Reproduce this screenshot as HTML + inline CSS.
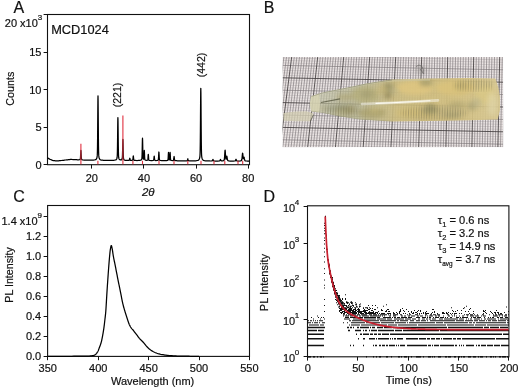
<!DOCTYPE html>
<html><head><meta charset="utf-8"><style>
html,body{margin:0;padding:0;background:#fff;width:520px;height:390px;overflow:hidden}
svg{display:block}
text{font-family:"Liberation Sans", Arial, Helvetica, sans-serif;fill:#111;stroke:#111;stroke-width:0.2px}
</style></head><body>
<svg width="520" height="390" viewBox="0 0 520 390">
<rect x="47.5" y="14.5" width="202.0" height="150.2" fill="none" stroke="#111" stroke-width="1.1"/>
<line x1="43.6" y1="164.5" x2="47.5" y2="164.5" stroke="#111"/>
<line x1="43.6" y1="127.5" x2="47.5" y2="127.5" stroke="#111"/>
<line x1="43.6" y1="89.5" x2="47.5" y2="89.5" stroke="#111"/>
<line x1="43.6" y1="52.5" x2="47.5" y2="52.5" stroke="#111"/>
<line x1="43.6" y1="14.5" x2="47.5" y2="14.5" stroke="#111"/>
<text x="41.5" y="168.8" text-anchor="end" font-size="11">0</text>
<text x="41.5" y="131.2" text-anchor="end" font-size="11">5</text>
<text x="41.5" y="93.6" text-anchor="end" font-size="11">10</text>
<text x="41.5" y="56" text-anchor="end" font-size="11">15</text>
<text x="4.8" y="26.6" font-size="11">20 x10<tspan dy="-7" font-size="8">3</tspan></text>
<line x1="91.5" y1="164.7" x2="91.5" y2="168.6" stroke="#111"/>
<text x="91.81" y="181.6" text-anchor="middle" font-size="11">20</text>
<line x1="143.5" y1="164.7" x2="143.5" y2="168.6" stroke="#111"/>
<text x="143.95" y="181.6" text-anchor="middle" font-size="11">40</text>
<line x1="196.5" y1="164.7" x2="196.5" y2="168.6" stroke="#111"/>
<text x="196.09" y="181.6" text-anchor="middle" font-size="11">60</text>
<line x1="248.5" y1="164.7" x2="248.5" y2="168.6" stroke="#111"/>
<text x="248.23" y="181.6" text-anchor="middle" font-size="11">80</text>
<text x="148.2" y="196.4" text-anchor="middle" font-size="11.5" font-style="italic">2θ</text>
<text transform="translate(13.6,88.7) rotate(-90)" text-anchor="middle" font-size="10.7">Counts</text>
<text x="51.2" y="33.8" font-size="12.8">MCD1024</text>
<text transform="translate(120.6,95) rotate(-90)" text-anchor="middle" font-size="10.5">(221)</text>
<text transform="translate(205,65) rotate(-90)" text-anchor="middle" font-size="10.5">(442)</text>
<text x="13.6" y="12.7" font-size="16">A</text>
<path d="M47.5,157.8 47.6,157.9 47.7,157.9 47.8,158 47.9,158 48,158.1 48.1,158.2 48.2,158.2 48.3,158.3 48.4,158.3 48.5,158.4 48.6,158.5 48.7,158.5 48.8,158.6 48.9,158.6 49,158.7 49.1,158.8 49.2,158.8 49.3,158.9 49.4,158.9 49.5,159 49.6,159.1 49.7,159.1 49.8,159.2 49.9,159.2 50,159.3 50.5,159.5 51.5,159.9 52.5,160.3 53.5,160.6 54.5,160.7 55.5,160.8 56.5,160.9 57.5,160.9 58.5,160.8 59.5,160.7 60.5,160.6 61.5,160.5 62.5,160.4 63.5,160.3 64.5,160.1 65.5,160 66.5,159.9 67.5,159.8 68.5,159.7 69.5,159.6 70.5,159.4 71.5,159.4 72.5,159.5 73.5,159.5 74.5,159.6 75.5,159.7 76.5,159.7 77.5,159.8 78.5,159.8 79.5,159.7 79.9,159.6 80,159.5 80.1,159.4 80.2,159.3 80.3,159 80.4,158.4 80.5,157.2 80.6,155.4 80.7,153.2 80.8,151.2 80.9,150.4 81,151.2 81.1,153.2 81.2,155.4 81.3,157.3 81.4,158.4 81.5,159 81.6,159.3 81.7,159.5 81.8,159.6 81.9,159.6 82,159.7 82.5,159.9 83.5,160 84.5,160 85.5,160.1 86.5,160.1 87.5,160.1 88.5,160.1 89.5,160.1 90.5,160.1 91.5,160.1 92.5,160.1 93.5,160.1 94.5,160 95.5,159.7 95.6,159.7 95.7,159.6 95.8,159.5 95.9,159.5 96,159.4 96.1,159.3 96.2,159.2 96.3,159.1 96.4,159 96.5,158.8 96.6,158.6 96.7,158.4 96.8,158.1 96.9,157.7 97,157.3 97.1,156.8 97.2,155.9 97.3,154.5 97.4,151.7 97.5,146.6 97.6,137.9 97.7,125.6 97.8,111.7 97.9,100.2 98,95.8 98.1,100.3 98.2,111.7 98.3,125.6 98.4,137.9 98.5,146.6 98.6,151.7 98.7,154.5 98.8,155.9 98.9,156.8 99,157.4 99.1,157.8 99.2,158.1 99.3,158.4 99.4,158.6 99.5,158.8 99.6,159 99.7,159.2 99.8,159.3 99.9,159.4 100,159.5 100.1,159.6 100.2,159.6 100.3,159.7 100.4,159.7 100.5,159.8 101.5,160.1 102.5,160.2 103.5,160.3 104.5,160.3 105.5,160.3 106.5,160.3 107.5,160.4 108.5,160.4 109.5,160.4 110.5,160.4 111.5,160.3 112.5,160.3 113.5,160.3 114.5,160.2 115.5,160 115.8,159.9 115.9,159.8 116,159.8 116.1,159.7 116.2,159.6 116.3,159.5 116.4,159.4 116.5,159.3 116.6,159.1 116.7,158.9 116.8,158.7 116.9,158.4 117,158 117.1,157.5 117.2,156.5 117.3,154.7 117.4,151.3 117.5,145.6 117.6,137.4 117.7,128.2 117.8,120.6 117.9,117.6 118,120.6 118.1,128.2 118.2,137.4 118.3,145.5 118.4,151.3 118.5,154.7 118.6,156.5 118.7,157.5 118.8,158 118.9,158.4 119,158.7 119.1,158.9 119.2,159.1 119.3,159.2 119.4,159.4 119.5,159.5 119.6,159.6 119.7,159.6 119.8,159.7 119.9,159.7 120.5,159.9 121.5,159.8 121.6,159.7 121.7,159.7 121.8,159.6 121.9,159.5 122,159.3 122.1,159.1 122.2,158.8 122.3,158.1 122.4,156.8 122.5,154.3 122.6,150.4 122.7,145.4 122.8,141.1 122.9,139.4 123,141.1 123.1,145.4 123.2,150.4 123.3,154.4 123.4,156.9 123.5,158.2 123.6,158.8 123.7,159.2 123.8,159.4 123.9,159.6 124,159.7 124.1,159.8 124.2,159.9 124.3,159.9 124.4,160 124.5,160 125.5,160.3 126.5,160.4 127.5,160.4 128.5,160.4 129.1,160.3 129.2,160.2 129.3,160.1 129.4,159.8 129.5,159.4 129.6,158.9 129.7,158.4 129.8,158.2 129.9,158.4 130,158.9 130.1,159.4 130.2,159.8 130.3,160.1 130.4,160.2 130.5,160.3 131.5,160.4 132.5,160.2 132.6,160.1 132.7,160 132.8,159.7 132.9,159.2 133,158.3 133.1,157.3 133.2,156.3 133.3,155.9 133.4,156.3 133.5,157.3 133.6,158.3 133.7,159.2 133.8,159.7 133.9,160 134,160.1 134.1,160.2 134.5,160.4 135.5,160.4 136.5,160.5 137.5,160.5 138.5,160.4 139.5,160.4 140.5,160.2 140.9,160.1 141,160.1 141.1,160 141.2,159.9 141.3,159.8 141.4,159.7 141.5,159.6 141.6,159.4 141.7,159.2 141.8,158.8 141.9,158.1 142,156.7 142.1,154.1 142.2,149.9 142.3,144.6 142.4,140 142.5,138.2 142.6,140 142.7,144.6 142.8,149.8 142.9,154 143,156.6 143.1,158 143.2,158.6 143.3,158.9 143.4,159.1 143.5,159.2 143.6,159.2 143.7,159.1 143.8,158.7 143.9,157.8 144,156.1 144.1,153.7 144.2,151.4 144.3,150.4 144.4,151.5 144.5,153.8 144.6,156.3 144.7,158.1 144.8,159.1 144.9,159.6 145,159.8 145.1,159.9 145.2,160 145.3,160.1 145.4,160.1 145.5,160.2 146.5,160.3 147.5,160.2 147.6,160.1 147.7,160 147.8,159.7 147.9,159.1 148,158 148.1,156.4 148.2,154.9 148.3,154.3 148.4,155 148.5,156.4 148.6,158 148.7,159.1 148.8,159.7 148.9,160 149,160.2 149.1,160.2 149.2,160.3 149.5,160.4 150.5,160.5 151.5,160.5 152.5,160.5 153.4,160.3 153.5,160.3 153.6,160.1 153.7,159.9 153.8,159.3 153.9,158.5 154,157.5 154.1,156.6 154.2,156.2 154.3,156.6 154.4,157.5 154.5,158.5 154.6,159.3 154.7,159.9 154.8,160.1 154.9,160.3 155,160.3 155.5,160.5 156.5,160.5 157.5,160.4 157.9,160.3 158,160.2 158.1,160.1 158.2,160 158.3,159.7 158.4,159.2 158.5,158.1 158.6,156.5 158.7,154.5 158.8,152.7 158.9,152 159,152.7 159.1,154.5 159.2,156.5 159.3,158.2 159.4,159.2 159.5,159.7 159.6,160 159.7,160.1 159.8,160.2 159.9,160.3 160,160.4 160.5,160.5 161.5,160.6 162.5,160.6 163.5,160.6 164.5,160.7 165.5,160.6 166.5,160.6 167.5,160.4 167.6,160.3 167.7,160.3 167.8,160.2 167.9,160 168,159.6 168.1,158.8 168.2,157.3 168.3,155.2 168.4,153.2 168.5,152.4 168.6,153.2 168.7,155.1 168.8,157.2 168.9,158.7 169,159.4 169.1,159.8 169.2,159.9 169.4,159.9 169.5,159.8 169.6,159.4 169.7,158.7 169.8,157.2 169.9,155.1 170,153.2 170.1,152.3 170.2,153.2 170.3,155.2 170.4,157.3 170.5,158.8 170.6,159.6 170.7,160 170.8,160.2 170.9,160.3 171,160.3 171.1,160.4 171.5,160.5 172.5,160.6 173.3,160.5 173.4,160.4 173.5,160.3 173.6,160 173.7,159.5 173.8,158.7 173.9,157.7 174,156.8 174.1,156.5 174.2,156.8 174.3,157.7 174.4,158.7 174.5,159.5 174.6,160 174.7,160.3 174.8,160.4 174.9,160.5 175.5,160.7 176.5,160.7 177.5,160.8 178.5,160.8 179.5,160.8 180.5,160.8 181.5,160.8 182.5,160.8 183.5,160.8 184.5,160.8 185.5,160.8 186.5,160.8 187.1,160.7 187.2,160.6 187.3,160.5 187.4,160.3 187.5,159.9 187.6,159.4 187.7,158.9 187.8,158.8 187.9,158.9 188,159.4 188.1,159.9 188.2,160.3 188.3,160.5 188.4,160.6 188.5,160.7 189.5,160.8 190.5,160.9 191.5,160.9 192.5,160.9 193.5,160.8 194.5,160.8 195.5,160.8 196.5,160.7 197.5,160.5 198.1,160.3 198.2,160.2 198.3,160.2 198.4,160.1 198.5,160.1 198.6,160 198.7,159.9 198.8,159.8 198.9,159.7 199,159.5 199.1,159.4 199.2,159.2 199.3,159 199.4,158.7 199.5,158.4 199.6,158.1 199.7,157.6 199.8,157.1 199.9,156.3 200,155 200.1,152.8 200.2,148.8 200.3,141.9 200.4,131.5 200.5,118 200.6,103.7 200.7,92.5 200.8,88.3 200.9,92.5 201,103.7 201.1,118 201.2,131.5 201.3,141.9 201.4,148.8 201.5,152.8 201.6,155 201.7,156.3 201.8,157.1 201.9,157.6 202,158.1 202.1,158.4 202.2,158.7 202.3,159 202.4,159.2 202.5,159.4 202.6,159.5 202.7,159.7 202.8,159.8 202.9,159.9 203,160 203.1,160.1 203.2,160.1 203.3,160.2 203.4,160.3 203.5,160.3 204.5,160.6 205.5,160.8 206.5,160.9 207.5,160.9 208.5,160.9 209.5,160.9 210.5,161 211.5,160.9 212.2,160.8 212.3,160.7 212.4,160.6 212.5,160.4 212.6,160.2 212.7,159.9 212.8,159.7 212.9,159.5 213,159.4 213.1,159.5 213.2,159.7 213.3,160 213.4,160.2 213.5,160.4 213.6,160.6 213.7,160.7 213.8,160.8 214.5,161 215.5,161 216.5,161 217.5,161 218.5,161 219.5,160.9 219.7,160.8 219.8,160.8 219.9,160.6 220,160.5 220.1,160.2 220.2,160 220.3,159.8 220.4,159.6 220.5,159.5 220.6,159.6 220.7,159.7 220.8,160 220.9,160.2 221,160.4 221.1,160.6 221.2,160.7 221.3,160.8 221.5,160.9 222.5,160.8 223.5,160.6 223.6,160.6 223.7,160.5 223.8,160.5 223.9,160.4 224,160.3 224.1,160.1 224.2,159.9 224.3,159.5 224.4,158.8 224.5,157.9 224.6,156.6 224.7,155 224.8,153.3 224.9,151.8 225,150.6 225.1,150.2 225.2,150.6 225.3,151.7 225.4,153.2 225.5,154.9 225.6,156.4 225.7,157.7 225.8,158.5 225.9,159 226,159.2 226.1,159.1 226.2,158.9 226.3,158.4 226.4,157.8 226.5,157.2 226.6,156.6 226.7,156.2 226.8,156.1 226.9,156.3 227,156.8 227.1,157.4 227.2,158.1 227.3,158.8 227.4,159.4 227.5,159.8 227.6,160.1 227.7,160.4 227.8,160.5 227.9,160.6 228,160.7 228.5,160.8 229.5,161 230.5,161 231.5,161 232.5,161.1 233.5,161.1 234.5,161 235.1,160.9 235.2,160.9 235.3,160.8 235.4,160.7 235.5,160.5 235.6,160.2 235.7,159.9 235.8,159.6 235.9,159.4 236,159.3 236.1,159.4 236.2,159.6 236.3,159.9 236.4,160.2 236.5,160.5 236.6,160.7 236.7,160.8 236.8,160.9 236.9,160.9 237.5,161 238.5,161 239.5,161 240.5,160.9 241.2,160.7 241.3,160.7 241.4,160.6 241.5,160.5 241.6,160.3 241.7,160.1 241.8,159.8 241.9,159.2 242,158.5 242.1,157.6 242.2,156.4 242.3,155.3 242.4,154.2 242.5,153.5 242.6,153.2 242.7,153.4 242.8,154.1 242.9,155.1 243,156.2 243.1,157.2 243.2,158 243.3,158.5 243.4,158.7 243.5,158.6 243.6,158.3 243.7,157.8 243.8,157.4 243.9,157.2 244,157.1 244.1,157.3 244.2,157.6 244.3,158.2 244.4,158.7 244.5,159.3 244.6,159.8 244.7,160.1 244.8,160.4 244.9,160.5 245,160.7 245.1,160.7 245.2,160.8 245.5,160.9 246.5,161 247.5,161.1 248.5,161.1 249.5,161.2" fill="none" stroke="#000" stroke-width="1.25" stroke-linejoin="round"/>
<line x1="80.9" y1="143.8" x2="80.9" y2="164.2" stroke="#e0303f" stroke-width="1.1"/>
<line x1="122.9" y1="115.5" x2="122.9" y2="164.2" stroke="#e0303f" stroke-width="1.1"/>
<line x1="97.9" y1="160.8" x2="97.9" y2="164.2" stroke="#e0303f" stroke-width="1.1"/>
<line x1="132.9" y1="160.8" x2="132.9" y2="164.2" stroke="#e0303f" stroke-width="1.1"/>
<line x1="142.5" y1="160.8" x2="142.5" y2="164.2" stroke="#e0303f" stroke-width="1.1"/>
<line x1="159" y1="160.8" x2="159" y2="164.2" stroke="#e0303f" stroke-width="1.1"/>
<line x1="174" y1="160.8" x2="174" y2="164.2" stroke="#e0303f" stroke-width="1.1"/>
<line x1="187.8" y1="160.8" x2="187.8" y2="164.2" stroke="#e0303f" stroke-width="1.1"/>
<line x1="201" y1="160.8" x2="201" y2="164.2" stroke="#e0303f" stroke-width="1.1"/>
<line x1="214" y1="160.8" x2="214" y2="164.2" stroke="#e0303f" stroke-width="1.1"/>
<line x1="224.8" y1="160.8" x2="224.8" y2="164.2" stroke="#e0303f" stroke-width="1.1"/>
<line x1="238" y1="160.8" x2="238" y2="164.2" stroke="#e0303f" stroke-width="1.1"/>
<line x1="242.7" y1="160.8" x2="242.7" y2="164.2" stroke="#e0303f" stroke-width="1.1"/>
<text x="263.8" y="12.9" font-size="16">B</text>
<defs><clipPath id="pc"><rect x="282.5" y="57.0" width="220.7" height="90.2"/></clipPath>
<clipPath id="bc"><path d="M310.9,96.2 L322,92.5 L336,89.8 L352,86.6 L366,83.6 L380,81.2 L392,79.6 L430,78.6 L470,78 L495.5,78.6 L498.5,88 L500,97 L500,110 L497.7,119.5 L470,120.2 L430,121 L392,121.6 L360,119.6 L340,116.5 L322,112.8 L311,111.4 L309.8,104 Z"/></clipPath>
<linearGradient id="cg" x1="310" y1="0" x2="500" y2="0" gradientUnits="userSpaceOnUse"><stop offset="0" stop-color="#c2c4a8" stop-opacity="0.62"/><stop offset="0.25" stop-color="#b8b690" stop-opacity="0.8"/><stop offset="0.45" stop-color="#cbbb7e" stop-opacity="0.9"/><stop offset="0.75" stop-color="#d2bf7e" stop-opacity="0.92"/><stop offset="1" stop-color="#d8c890" stop-opacity="0.92"/></linearGradient><filter id="pb" x="0" y="0" width="1" height="1"><feGaussianBlur stdDeviation="0.45"/></filter><filter id="bb" x="-0.5" y="-0.5" width="2" height="2"><feGaussianBlur stdDeviation="2.2"/></filter><filter id="sb" x="-0.5" y="-0.5" width="2" height="2"><feGaussianBlur stdDeviation="1.1"/></filter><filter id="hb" x="-0.2" y="-2" width="1.4" height="5"><feGaussianBlur stdDeviation="0.7"/></filter></defs>
<g clip-path="url(#pc)"><g filter="url(#pb)">
<rect x="282.5" y="57.0" width="220.7" height="90.2" fill="#ebe5e4"/>
<path d="M282.5,48.04L503.2,52.45M282.5,50.52L503.2,54.93M282.5,55.48L503.2,59.89M282.5,57.96L503.2,62.37M282.5,60.44L503.2,64.85M282.5,62.92L503.2,67.33M282.5,67.88L503.2,72.29M282.5,70.36L503.2,74.77M282.5,72.84L503.2,77.25M282.5,75.32L503.2,79.73M282.5,80.28L503.2,84.69M282.5,82.76L503.2,87.17M282.5,85.24L503.2,89.65M282.5,87.72L503.2,92.13M282.5,92.68L503.2,97.09M282.5,95.16L503.2,99.57M282.5,97.64L503.2,102.05M282.5,100.12L503.2,104.53M282.5,105.08L503.2,109.49M282.5,107.56L503.2,111.97M282.5,110.04L503.2,114.45M282.5,112.52L503.2,116.93M282.5,117.48L503.2,121.89M282.5,119.96L503.2,124.37M282.5,122.44L503.2,126.85M282.5,124.92L503.2,129.33M282.5,129.88L503.2,134.29M282.5,132.36L503.2,136.77M282.5,134.84L503.2,139.25M282.5,137.32L503.2,141.73M282.5,142.28L503.2,146.69M282.5,144.76L503.2,149.17M282.5,147.24L503.2,151.65M282.5,149.72L503.2,154.13M282.5,154.68L503.2,159.09M282.5,157.16L503.2,161.57M282.5,159.64L503.2,164.05M282.5,162.12L503.2,166.53M282.5,167.08L503.2,171.49M282.5,169.56L503.2,173.97M282.5,172.04L503.2,176.45M282.5,174.52L503.2,178.93M282.5,179.48L503.2,183.89M282.5,181.96L503.2,186.37M282.5,184.44L503.2,188.85M282.5,186.92L503.2,191.33" stroke="#b3acae" stroke-width="0.45" fill="none"/>
<path d="M255.3,57.0L243.57,147.2M257.9,57.0L246.17,147.2M260.5,57.0L248.77,147.2M263.1,57.0L251.37,147.2M268.3,57.0L256.57,147.2M270.9,57.0L259.17,147.2M273.5,57.0L261.77,147.2M276.1,57.0L264.37,147.2M281.3,57.0L269.57,147.2M283.9,57.0L272.17,147.2M286.5,57.0L274.77,147.2M289.1,57.0L277.37,147.2M294.3,57.0L282.73,147.2M296.9,57.0L285.5,147.2M299.5,57.0L288.28,147.2M302.1,57.0L291.05,147.2M307.3,57.0L296.6,147.2M309.9,57.0L299.37,147.2M312.5,57.0L302.15,147.2M315.1,57.0L304.92,147.2M320.3,57.0L310.47,147.2M322.9,57.0L313.25,147.2M325.5,57.0L316.02,147.2M328.1,57.0L318.79,147.2M333.3,57.0L324.34,147.2M335.9,57.0L327.12,147.2M338.5,57.0L329.89,147.2M341.1,57.0L332.67,147.2M346.3,57.0L338.21,147.2M348.9,57.0L340.99,147.2M351.5,57.0L343.76,147.2M354.1,57.0L346.54,147.2M359.3,57.0L352.09,147.2M361.9,57.0L354.86,147.2M364.5,57.0L357.63,147.2M367.1,57.0L360.41,147.2M372.3,57.0L365.96,147.2M374.9,57.0L368.73,147.2M377.5,57.0L371.51,147.2M380.1,57.0L374.28,147.2M385.3,57.0L379.83,147.2M387.9,57.0L382.6,147.2M390.5,57.0L385.38,147.2M393.1,57.0L388.15,147.2M398.3,57.0L393.7,147.2M400.9,57.0L396.47,147.2M403.5,57.0L399.25,147.2M406.1,57.0L402.02,147.2M411.3,57.0L407.57,147.2M413.9,57.0L410.35,147.2M416.5,57.0L413.12,147.2M419.1,57.0L415.89,147.2M424.3,57.0L421.44,147.2M426.9,57.0L424.22,147.2M429.5,57.0L426.99,147.2M432.1,57.0L429.77,147.2M437.3,57.0L435.31,147.2M439.9,57.0L438.09,147.2M442.5,57.0L440.7,147.2M445.1,57.0L443.3,147.2M450.3,57.0L448.5,147.2M452.9,57.0L451.1,147.2M455.5,57.0L453.7,147.2M458.1,57.0L456.3,147.2M463.3,57.0L461.5,147.2M465.9,57.0L464.1,147.2M468.5,57.0L466.7,147.2M471.1,57.0L469.3,147.2M476.3,57.0L474.5,147.2M478.9,57.0L477.1,147.2M481.5,57.0L479.7,147.2M484.1,57.0L482.3,147.2M489.3,57.0L487.5,147.2M491.9,57.0L490.1,147.2M494.5,57.0L492.7,147.2M497.1,57.0L495.3,147.2M502.3,57.0L500.5,147.2M504.9,57.0L503.1,147.2M507.5,57.0L505.7,147.2M510.1,57.0L508.3,147.2M515.3,57.0L513.5,147.2M517.9,57.0L516.1,147.2M520.5,57.0L518.7,147.2M523.1,57.0L521.3,147.2M528.3,57.0L526.5,147.2M530.9,57.0L529.1,147.2M533.5,57.0L531.7,147.2M536.1,57.0L534.3,147.2" stroke="#7a7477" stroke-width="0.65" fill="none"/>
<path d="M252.7,57.0L240.97,147.2M278.7,57.0L266.97,147.2M304.7,57.0L293.83,147.2M330.7,57.0L321.57,147.2M356.7,57.0L349.31,147.2M382.7,57.0L377.05,147.2M408.7,57.0L404.8,147.2M434.7,57.0L432.54,147.2M460.7,57.0L458.9,147.2M486.7,57.0L484.9,147.2M512.7,57.0L510.9,147.2M282.5,65.4L503.2,69.81M282.5,90.2L503.2,94.61M282.5,115L503.2,119.41M282.5,139.8L503.2,144.21M282.5,164.6L503.2,169.01" stroke="#7a7477" stroke-width="0.65" fill="none"/>
<path d="M265.7,57.0L253.97,147.2M291.7,57.0L279.97,147.2M317.7,57.0L307.7,147.2M343.7,57.0L335.44,147.2M369.7,57.0L363.18,147.2M395.7,57.0L390.93,147.2M421.7,57.0L418.67,147.2M447.7,57.0L445.9,147.2M473.7,57.0L471.9,147.2M499.7,57.0L497.9,147.2M525.7,57.0L523.9,147.2M282.5,77.8L503.2,82.21M282.5,102.6L503.2,107.01M282.5,127.4L503.2,131.81M282.5,152.2L503.2,156.61M282.5,177L503.2,181.41" stroke="#403b3c" stroke-width="0.85" fill="none"/>
<ellipse cx="421" cy="70" rx="6" ry="5" fill="#8d8a86" opacity="0.35" filter="url(#bb)"/>
<path d="M416,66.5 q3,-3 6,0 q2,3 1,7 M420,69 l4,5" stroke="#5f5c5a" stroke-width="0.9" fill="none" opacity="0.7"/>
<path d="M283.5,113 L295,111.6 L306,111.2 L312.9,113 L313.7,115.1 L310.3,121.2 L296,121.3 L283.5,120.8 Z" fill="#d2cdb0" fill-opacity="0.72"/>
<path d="M313.6,114.6 L310.4,121.2" stroke="#4a4a40" stroke-width="0.9" opacity="0.8"/>
<path d="M310.9,96.2 L322,92.5 L336,89.8 L352,86.6 L366,83.6 L380,81.2 L392,79.6 L430,78.6 L470,78 L495.5,78.6 L498.5,88 L500,97 L500,110 L497.7,119.5 L470,120.2 L430,121 L392,121.6 L360,119.6 L340,116.5 L322,112.8 L311,111.4 L309.8,104 Z" fill="url(#cg)"/>
<g clip-path="url(#bc)">
<ellipse cx="365" cy="95" rx="14" ry="8" fill="#b3ab72" opacity="0.6" filter="url(#bb)"/>
<ellipse cx="388" cy="92" rx="4" ry="7" fill="#7d7040" opacity="0.6" filter="url(#bb)"/>
<ellipse cx="415" cy="88" rx="18" ry="7" fill="#dfc680" opacity="0.85" filter="url(#bb)"/>
<ellipse cx="455" cy="88" rx="20" ry="7" fill="#dbc37a" opacity="0.8" filter="url(#bb)"/>
<ellipse cx="485" cy="94" rx="10" ry="10" fill="#dbc985" opacity="0.7" filter="url(#bb)"/>
<ellipse cx="372" cy="113" rx="14" ry="5" fill="#a49a60" opacity="0.6" filter="url(#bb)"/>
<ellipse cx="410" cy="113" rx="14" ry="5" fill="#d4bf7a" opacity="0.75" filter="url(#bb)"/>
<ellipse cx="450" cy="111" rx="14" ry="6" fill="#c2b584" opacity="0.55" filter="url(#bb)"/>
<ellipse cx="335" cy="108" rx="14" ry="4" fill="#9c9d80" opacity="0.55" filter="url(#bb)"/>
<ellipse cx="492" cy="104" rx="5" ry="12" fill="#e3dab0" opacity="0.5" filter="url(#bb)"/>
<ellipse cx="428.0" cy="115.1" rx="5.1" ry="3.3" fill="#c9b672" opacity="0.52" filter="url(#bb)"/>
<ellipse cx="318.9" cy="108.4" rx="8.0" ry="3.7" fill="#bdb88e" opacity="0.38" filter="url(#bb)"/>
<ellipse cx="367.0" cy="94.4" rx="6.5" ry="3.9" fill="#9f9a70" opacity="0.55" filter="url(#bb)"/>
<ellipse cx="457.5" cy="104.6" rx="8.9" ry="3.0" fill="#8e8a60" opacity="0.34" filter="url(#bb)"/>
<ellipse cx="425.8" cy="82.7" rx="6.6" ry="3.7" fill="#8e8a60" opacity="0.53" filter="url(#bb)"/>
<ellipse cx="428.7" cy="100.5" rx="6.5" ry="3.1" fill="#d9c480" opacity="0.3" filter="url(#bb)"/>
<ellipse cx="351.9" cy="107.2" rx="5.8" ry="2.5" fill="#9f9a70" opacity="0.51" filter="url(#bb)"/>
<ellipse cx="345.2" cy="97.3" rx="8.4" ry="3.8" fill="#a99e68" opacity="0.51" filter="url(#bb)"/>
<ellipse cx="430.6" cy="109.2" rx="6.7" ry="3.8" fill="#8e8a60" opacity="0.52" filter="url(#bb)"/>
<ellipse cx="381.6" cy="104.6" rx="4.3" ry="3.5" fill="#d9c480" opacity="0.38" filter="url(#bb)"/>
<ellipse cx="344.4" cy="109.8" rx="8.9" ry="4.0" fill="#8e8a60" opacity="0.45" filter="url(#bb)"/>
<ellipse cx="430.3" cy="106.7" rx="4.8" ry="3.6" fill="#8e8a60" opacity="0.36" filter="url(#bb)"/>
<ellipse cx="388.8" cy="86.0" rx="5.1" ry="4.2" fill="#8e8a60" opacity="0.38" filter="url(#bb)"/>
<ellipse cx="471.8" cy="106.2" rx="4.7" ry="4.6" fill="#9f9a70" opacity="0.54" filter="url(#bb)"/>
<ellipse cx="477.1" cy="102.6" rx="5.0" ry="4.8" fill="#b5b28e" opacity="0.44" filter="url(#bb)"/>
<ellipse cx="349.8" cy="111.8" rx="7.2" ry="3.9" fill="#a99e68" opacity="0.39" filter="url(#bb)"/>
<ellipse cx="390.3" cy="91.1" rx="8.4" ry="3.7" fill="#bdb88e" opacity="0.44" filter="url(#bb)"/>
<ellipse cx="374.7" cy="109.6" rx="4.1" ry="3.4" fill="#d9c480" opacity="0.31" filter="url(#bb)"/>
<ellipse cx="339.6" cy="112.7" rx="6.1" ry="3.8" fill="#bdb88e" opacity="0.52" filter="url(#bb)"/>
<ellipse cx="378.6" cy="104.3" rx="7.4" ry="3.4" fill="#bdb88e" opacity="0.43" filter="url(#bb)"/>
<ellipse cx="452.7" cy="115.5" rx="8.7" ry="2.5" fill="#9f9a70" opacity="0.49" filter="url(#bb)"/>
<ellipse cx="460.7" cy="86.2" rx="6.1" ry="4.5" fill="#a99e68" opacity="0.3" filter="url(#bb)"/>
<ellipse cx="428.6" cy="111.1" rx="7.6" ry="3.1" fill="#9f9a70" opacity="0.35" filter="url(#bb)"/>
<ellipse cx="381.9" cy="90.0" rx="5.7" ry="4.9" fill="#c9b672" opacity="0.44" filter="url(#bb)"/>
<path d="M310.9,96.2 L319,93.6 L320,103 L319,113 L311,111.4 L309.8,104 Z" fill="#d9d6b4" opacity="0.75"/>
<path d="M319,93.8 L336,90.2 L352,87 L366,84 L380,81.6 L392,80.4 L430,79.8" stroke="#d8d8c0" stroke-width="2" fill="none" opacity="0.35"/>
<path d="M321,102.5 L340,98.8" stroke="#55553e" stroke-width="1.2" opacity="0.75"/>
<path d="M311.5,96.4 L322,93 L336,90.2 L352,87 L366,84 L380,81.6 L392,80" stroke="#7d7d62" stroke-width="0.9" fill="none" opacity="0.55"/>
<path d="M311.5,111.2 L322,112.6 L340,116.3 L360,119.4 L392,121.4" stroke="#7d7d62" stroke-width="0.9" fill="none" opacity="0.4"/>
<mask id="sm" maskUnits="userSpaceOnUse" x="280" y="50" width="230" height="100"><g filter="url(#bb)"><ellipse cx="474" cy="85" rx="20" ry="6" fill="#fff"/><ellipse cx="434" cy="113" rx="34" ry="7" fill="#fff"/><ellipse cx="342" cy="111" rx="18" ry="5" fill="#fff"/></g></mask>
<path d="M452.9,79L452.64,92M455.5,79L455.24,92M458.1,79L457.84,92M460.7,79L460.44,92M463.3,79L463.04,92M465.9,79L465.64,92M468.5,79L468.24,92M471.1,79L470.84,92M473.7,79L473.44,92M476.3,79L476.04,92M478.9,79L478.64,92M481.5,79L481.24,92M484.1,79L483.84,92M486.7,79L486.44,92M489.3,79L489.04,92M491.9,79L491.64,92M398.3,104L397.96,121M400.9,104L400.56,121M403.5,104L403.16,121M406.1,104L405.76,121M408.7,104L408.36,121M411.3,104L410.96,121M413.9,104L413.56,121M416.5,104L416.16,121M419.1,104L418.76,121M421.7,104L421.36,121M424.3,104L423.96,121M426.9,104L426.56,121M429.5,104L429.16,121M432.1,104L431.76,121M434.7,104L434.36,121M437.3,104L436.96,121M439.9,104L439.56,121M442.5,104L442.16,121M445.1,104L444.76,121M447.7,104L447.36,121M450.3,104L449.96,121M452.9,104L452.56,121M455.5,104L455.16,121M458.1,104L457.76,121M460.7,104L460.36,121M463.3,104L462.96,121M465.9,104L465.56,121M468.5,104L468.16,121M322.9,105L322.64,118M325.5,105L325.24,118M328.1,105L327.84,118M330.7,105L330.44,118M333.3,105L333.04,118M335.9,105L335.64,118M338.5,105L338.24,118M341.1,105L340.84,118M343.7,105L343.44,118M346.3,105L346.04,118M348.9,105L348.64,118M351.5,105L351.24,118M354.1,105L353.84,118M356.7,105L356.44,118M359.3,105L359.04,118M361.9,105L361.64,118" stroke="#6f6848" stroke-width="0.7" opacity="0.6" fill="none" mask="url(#sm)"/>
</g>
<path d="M362,104.0 L392,102.9 L438,100.4" stroke="#ffffff" stroke-width="2.6" stroke-linecap="round" fill="none" opacity="0.45" filter="url(#hb)"/>
<path d="M376,103.4 L392,102.8 L430,100.8" stroke="#fffffa" stroke-width="1.1" stroke-linecap="round" fill="none" opacity="0.9"/>
</g></g>
<rect x="47.6" y="205.5" width="201.9" height="150.89999999999998" fill="none" stroke="#111" stroke-width="1.1"/>
<line x1="43.6" y1="356.5" x2="47.6" y2="356.5" stroke="#111"/>
<text x="41.2" y="360.3" text-anchor="end" font-size="11">0.0</text>
<line x1="43.6" y1="336.5" x2="47.6" y2="336.5" stroke="#111"/>
<text x="41.2" y="340.28" text-anchor="end" font-size="11">0.2</text>
<line x1="43.6" y1="316.5" x2="47.6" y2="316.5" stroke="#111"/>
<text x="41.2" y="320.26" text-anchor="end" font-size="11">0.4</text>
<line x1="43.6" y1="296.5" x2="47.6" y2="296.5" stroke="#111"/>
<text x="41.2" y="300.24" text-anchor="end" font-size="11">0.6</text>
<line x1="43.6" y1="276.5" x2="47.6" y2="276.5" stroke="#111"/>
<text x="41.2" y="280.22" text-anchor="end" font-size="11">0.8</text>
<line x1="43.6" y1="256.5" x2="47.6" y2="256.5" stroke="#111"/>
<text x="41.2" y="260.2" text-anchor="end" font-size="11">1.0</text>
<line x1="43.6" y1="236.5" x2="47.6" y2="236.5" stroke="#111"/>
<text x="41.2" y="240.18" text-anchor="end" font-size="11">1.2</text>
<line x1="43.6" y1="216.5" x2="47.6" y2="216.5" stroke="#111"/>
<text x="1.5" y="224.8" font-size="11">1.4 x10<tspan dy="-7.2" font-size="8">9</tspan></text>
<line x1="47.5" y1="356.4" x2="47.5" y2="360.2" stroke="#111"/>
<text x="47.8" y="372" text-anchor="middle" font-size="11">350</text>
<line x1="98.5" y1="356.4" x2="98.5" y2="360.2" stroke="#111"/>
<text x="98.2" y="372" text-anchor="middle" font-size="11">400</text>
<line x1="148.5" y1="356.4" x2="148.5" y2="360.2" stroke="#111"/>
<text x="148.6" y="372" text-anchor="middle" font-size="11">450</text>
<line x1="199.5" y1="356.4" x2="199.5" y2="360.2" stroke="#111"/>
<text x="199" y="372" text-anchor="middle" font-size="11">500</text>
<line x1="249.5" y1="356.4" x2="249.5" y2="360.2" stroke="#111"/>
<text x="249.4" y="372" text-anchor="middle" font-size="11">550</text>
<text x="152.6" y="385" text-anchor="middle" font-size="11">Wavelength (nm)</text>
<text transform="translate(13.2,275) rotate(-90)" text-anchor="middle" font-size="10.7">PL Intensity</text>
<text x="13.2" y="202.3" font-size="16">C</text>
<path d="M47.8,356.3 49.8,356.3 51.8,356.3 53.8,356.3 55.8,356.29 57.8,356.29 59.8,356.29 61.8,356.28 63.8,356.28 65.8,356.27 67.8,356.26 69.8,356.25 71.8,356.25 73.8,356.24 75.8,356.23 77.8,356.21 79.8,356.2 81.8,356.18 83.8,356.14 85.8,356.08 87.8,356.01 89.8,355.89 91.8,355.68 93.8,355.31 95,354.8 95.2,354.68 95.4,354.54 95.6,354.38 95.8,354.2 96,353.99 96.2,353.77 96.4,353.54 96.6,353.29 96.8,353.02 97,352.74 97.2,352.45 97.4,352.15 97.6,351.84 97.8,351.48 98,351.08 98.2,350.64 98.4,350.17 98.6,349.67 98.8,349.15 99,348.63 99.2,348.09 99.4,347.56 99.6,347.04 99.8,346.52 100,345.99 100.2,345.45 100.4,344.89 100.6,344.31 100.8,343.7 101,343.05 101.2,342.36 101.4,341.62 101.6,340.78 101.8,339.87 102,338.89 102.2,337.87 102.4,336.83 102.6,335.77 102.8,334.69 103,333.58 103.2,332.42 103.4,331.21 103.6,329.94 103.8,328.6 104,327.16 104.2,325.62 104.4,323.98 104.6,322.29 104.8,320.55 105,318.8 105.2,317.09 105.4,315.38 105.6,313.5 105.8,311.3 106,308.4 106.2,304.98 106.4,301.64 106.6,298.25 106.8,294.86 107,291.6 107.2,288.51 107.4,285.52 107.6,282.6 107.8,279.73 108,276.87 108.2,274.04 108.4,271.24 108.6,268.52 108.8,265.9 109,263.35 109.2,260.86 109.4,258.49 109.6,256.3 109.8,254.19 110,252.18 110.2,250.47 110.4,249.19 110.6,247.99 110.8,246.9 111,246.05 111.2,245.57 111.4,245.57 111.6,246.04 111.8,246.85 112,247.82 112.2,248.8 112.4,249.89 112.6,251.21 112.8,252.63 113,254.03 113.2,255.3 113.4,256.43 113.6,257.5 113.8,258.54 114,259.55 114.2,260.53 114.4,261.5 114.6,262.46 114.8,263.43 115,264.4 115.2,265.39 115.4,266.41 115.6,267.44 115.8,268.47 116,269.51 116.2,270.55 116.4,271.59 116.6,272.63 116.8,273.67 117,274.71 117.2,275.74 117.4,276.77 117.6,277.79 117.8,278.8 118,279.8 118.2,280.8 118.4,281.8 118.6,282.78 118.8,283.77 119,284.75 119.2,285.73 119.4,286.7 119.6,287.68 119.8,288.66 120,289.64 120.2,290.62 120.4,291.6 120.6,292.6 120.8,293.61 121,294.65 121.2,295.69 121.4,296.73 121.6,297.77 121.8,298.8 122,299.81 122.2,300.8 122.4,301.76 122.6,302.68 122.8,303.56 123,304.4 123.2,305.2 123.4,305.98 123.6,306.73 123.8,307.47 124,308.19 124.2,308.9 124.4,309.58 124.6,310.26 124.8,310.93 125,311.58 125.2,312.22 125.4,312.86 125.6,313.49 125.8,314.11 126,314.73 126.2,315.35 126.4,315.97 126.6,316.58 126.8,317.2 127,317.82 127.2,318.45 127.4,319.08 127.6,319.72 127.8,320.34 128,320.96 128.2,321.56 128.4,322.15 128.6,322.72 128.8,323.26 129,323.77 129.2,324.25 129.4,324.7 129.6,325.12 129.8,325.52 130,325.9 130.2,326.27 130.4,326.62 130.6,326.96 130.8,327.28 131,327.59 131.2,327.88 131.4,328.16 131.6,328.43 131.8,328.68 132,328.9 132.2,329.12 132.4,329.32 132.6,329.53 132.8,329.74 133,329.96 133.2,330.2 133.4,330.46 133.6,330.72 133.8,331 134,331.29 134.2,331.58 134.4,331.87 134.6,332.15 134.8,332.43 135,332.7 135.2,332.96 135.4,333.22 135.6,333.47 135.8,333.71 136,333.96 136.2,334.21 136.4,334.45 136.6,334.7 136.8,334.95 137,335.2 137.2,335.46 137.4,335.72 137.6,335.99 137.8,336.26 138,336.54 138.2,336.81 138.4,337.08 138.6,337.35 138.8,337.61 139,337.87 139.2,338.12 139.4,338.37 139.6,338.6 139.8,338.82 140,339.04 141,340.04 142,340.99 143,341.98 144,343.12 145,344.39 146,345.67 147,346.8 148,347.79 149,348.7 150,349.52 151,350.23 152,350.88 153,351.47 154,352.01 155,352.49 156,352.9 157,353.26 158,353.58 159,353.87 160,354.14 161,354.36 162,354.55 163,354.73 164,354.89 165,355.05 166,355.18 167,355.31 168,355.42 169,355.52 170,355.6 171,355.67 172,355.74 173,355.8 174,355.86 175,355.92 176,355.97 177,356.01 178,356.05 179,356.08 180,356.1 181,356.12 182,356.14 183,356.15 184,356.17 185,356.18 186,356.2 187,356.21 188,356.23 189,356.24 190,356.25 191,356.26 192,356.27 193,356.28 194,356.28 195,356.29 196,356.29 197,356.3 198,356.3 199,356.3" fill="none" stroke="#000" stroke-width="1.25" stroke-linejoin="round"/>
<rect x="307.5" y="205.8" width="201.4" height="151" fill="none" stroke="#111" stroke-width="1.1"/>
<line x1="303.6" y1="356.5" x2="307.5" y2="356.5" stroke="#111"/>
<text x="283" y="362.3" font-size="11">10<tspan dx="-0.5" dy="-7" font-size="8">0</tspan></text>
<line x1="303.6" y1="319.5" x2="307.5" y2="319.5" stroke="#111"/>
<text x="283" y="324.6" font-size="11">10<tspan dx="-0.5" dy="-7" font-size="8">1</tspan></text>
<line x1="303.6" y1="281.5" x2="307.5" y2="281.5" stroke="#111"/>
<text x="283" y="286.9" font-size="11">10<tspan dx="-0.5" dy="-7" font-size="8">2</tspan></text>
<line x1="303.6" y1="243.5" x2="307.5" y2="243.5" stroke="#111"/>
<text x="283" y="249.2" font-size="11">10<tspan dx="-0.5" dy="-7" font-size="8">3</tspan></text>
<line x1="303.6" y1="206.5" x2="307.5" y2="206.5" stroke="#111"/>
<text x="283" y="211.5" font-size="11">10<tspan dx="-0.5" dy="-7" font-size="8">4</tspan></text>
<line x1="307.5" y1="356.8" x2="307.5" y2="360.6" stroke="#111"/>
<text x="307.9" y="372.2" text-anchor="middle" font-size="11">0</text>
<line x1="357.5" y1="356.8" x2="357.5" y2="360.6" stroke="#111"/>
<text x="358.25" y="372.2" text-anchor="middle" font-size="11">50</text>
<line x1="408.5" y1="356.8" x2="408.5" y2="360.6" stroke="#111"/>
<text x="408.6" y="372.2" text-anchor="middle" font-size="11">100</text>
<line x1="458.5" y1="356.8" x2="458.5" y2="360.6" stroke="#111"/>
<text x="458.95" y="372.2" text-anchor="middle" font-size="11">150</text>
<line x1="508.5" y1="356.8" x2="508.5" y2="360.6" stroke="#111"/>
<text x="509.3" y="372.2" text-anchor="middle" font-size="11">200</text>
<text x="408.8" y="384.3" text-anchor="middle" font-size="11">Time (ns)</text>
<text transform="translate(267.6,282.6) rotate(-90)" text-anchor="middle" font-size="11">PL Intensity</text>
<text x="263.6" y="201.7" font-size="16">D</text>
<path d="M307,356.1h4v1.5h-4zM313,356.1h2v1.5h-2zM317,356.1h1v1.5h-1zM320,356.1h2v1.5h-2zM323,356.1h1v1.5h-1zM366,356.1h1v1.5h-1zM373,356.1h1v1.5h-1zM376,356.1h1v1.5h-1zM379,356.1h2v1.5h-2zM386,356.1h2v1.5h-2zM391,356.1h1v1.5h-1zM398,356.1h2v1.5h-2zM401,356.1h1v1.5h-1zM404,356.1h3v1.5h-3zM408,356.1h1v1.5h-1zM411,356.1h1v1.5h-1zM416,356.1h5v1.5h-5zM423,356.1h1v1.5h-1zM428,356.1h3v1.5h-3zM432,356.1h1v1.5h-1zM434,356.1h1v1.5h-1zM438,356.1h3v1.5h-3zM445,356.1h2v1.5h-2zM448,356.1h3v1.5h-3zM454,356.1h2v1.5h-2zM458,356.1h2v1.5h-2zM461,356.1h1v1.5h-1zM463,356.1h2v1.5h-2zM468,356.1h3v1.5h-3zM473,356.1h3v1.5h-3zM478,356.1h1v1.5h-1zM480,356.1h3v1.5h-3zM486,356.1h1v1.5h-1zM490,356.1h2v1.5h-2zM493,356.1h1v1.5h-1zM495,356.1h1v1.5h-1zM499,356.1h2v1.5h-2zM502,356.1h4v1.5h-4zM507,356.1h1v1.5h-1zM308,344.7h16v1.5h-16zM350,344.7h1v1.5h-1zM353,344.7h1v1.5h-1zM363,344.7h1v1.5h-1zM373,344.7h1v1.5h-1zM375,344.7h2v1.5h-2zM379,344.7h2v1.5h-2zM382,344.7h3v1.5h-3zM386,344.7h2v1.5h-2zM389,344.7h6v1.5h-6zM396,344.7h1v1.5h-1zM398,344.7h1v1.5h-1zM400,344.7h5v1.5h-5zM407,344.7h20v1.5h-20zM428,344.7h3v1.5h-3zM432,344.7h1v1.5h-1zM434,344.7h5v1.5h-5zM440,344.7h14v1.5h-14zM455,344.7h2v1.5h-2zM459,344.7h1v1.5h-1zM461,344.7h1v1.5h-1zM463,344.7h1v1.5h-1zM466,344.7h8v1.5h-8zM476,344.7h1v1.5h-1zM478,344.7h2v1.5h-2zM481,344.7h5v1.5h-5zM487,344.7h6v1.5h-6zM494,344.7h6v1.5h-6zM501,344.7h8v1.5h-8zM307,338.1h17v1.5h-17zM358,338.1h1v1.5h-1zM363,338.1h2v1.5h-2zM369,338.1h6v1.5h-6zM376,338.1h1v1.5h-1zM378,338.1h11v1.5h-11zM390,338.1h1v1.5h-1zM392,338.1h1v1.5h-1zM394,338.1h2v1.5h-2zM397,338.1h6v1.5h-6zM406,338.1h12v1.5h-12zM419,338.1h7v1.5h-7zM427,338.1h3v1.5h-3zM431,338.1h4v1.5h-4zM436,338.1h4v1.5h-4zM441,338.1h1v1.5h-1zM443,338.1h9v1.5h-9zM453,338.1h3v1.5h-3zM457,338.1h4v1.5h-4zM462,338.1h33v1.5h-33zM496,338.1h13v1.5h-13zM307,333.4h17v1.5h-17zM356,333.4h1v1.5h-1zM360,333.4h2v1.5h-2zM363,333.4h6v1.5h-6zM370,333.4h3v1.5h-3zM374,333.4h3v1.5h-3zM378,333.4h3v1.5h-3zM382,333.4h7v1.5h-7zM390,333.4h112v1.5h-112zM503,333.4h6v1.5h-6zM307,329.7h10v1.5h-10zM318,329.7h6v1.5h-6zM348,329.7h2v1.5h-2zM355,329.7h6v1.5h-6zM363,329.7h1v1.5h-1zM365,329.7h2v1.5h-2zM369,329.7h1v1.5h-1zM371,329.7h6v1.5h-6zM378,329.7h16v1.5h-16zM395,329.7h7v1.5h-7zM403,329.7h36v1.5h-36zM440,329.7h69v1.5h-69zM308,326.7h17v1.5h-17zM347,326.7h2v1.5h-2zM350,326.7h2v1.5h-2zM353,326.7h1v1.5h-1zM357,326.7h2v1.5h-2zM360,326.7h9v1.5h-9zM370,326.7h1v1.5h-1zM372,326.7h3v1.5h-3zM377,326.7h6v1.5h-6zM384,326.7h8v1.5h-8zM393,326.7h54v1.5h-54zM448,326.7h35v1.5h-35zM484,326.7h5v1.5h-5zM490,326.7h9v1.5h-9zM500,326.7h8v1.5h-8zM307,324.4h1v1.0h-1zM309,324.4h10v1.0h-10zM320,324.4h4v1.0h-4zM349,324.4h1v1.0h-1zM351,324.4h9v1.0h-9zM361,324.4h26v1.0h-26zM388,324.4h9v1.0h-9zM398,324.4h19v1.0h-19zM418,324.4h28v1.0h-28zM447,324.4h27v1.0h-27zM475,324.4h11v1.0h-11zM487,324.4h22v1.0h-22zM307,322.3h4v1.0h-4zM312,322.3h1v1.0h-1zM314,322.3h4v1.0h-4zM319,322.3h1v1.0h-1zM322,322.3h3v1.0h-3zM343,322.3h1v1.0h-1zM347,322.3h1v1.0h-1zM351,322.3h14v1.0h-14zM366,322.3h14v1.0h-14zM381,322.3h13v1.0h-13zM395,322.3h11v1.0h-11zM407,322.3h1v1.0h-1zM409,322.3h26v1.0h-26zM436,322.3h7v1.0h-7zM444,322.3h24v1.0h-24zM469,322.3h3v1.0h-3zM473,322.3h2v1.0h-2zM476,322.3h30v1.0h-30zM507,322.3h2v1.0h-2zM308,320.3h1v1.0h-1zM310,320.3h2v1.0h-2zM313,320.3h1v1.0h-1zM315,320.3h1v1.0h-1zM317,320.3h1v1.0h-1zM319,320.3h4v1.0h-4zM349,320.3h2v1.0h-2zM352,320.3h12v1.0h-12zM365,320.3h14v1.0h-14zM380,320.3h16v1.0h-16zM397,320.3h2v1.0h-2zM400,320.3h8v1.0h-8zM410,320.3h4v1.0h-4zM416,320.3h4v1.0h-4zM421,320.3h5v1.0h-5zM427,320.3h1v1.0h-1zM430,320.3h25v1.0h-25zM456,320.3h8v1.0h-8zM465,320.3h8v1.0h-8zM474,320.3h4v1.0h-4zM479,320.3h6v1.0h-6zM486,320.3h1v1.0h-1zM488,320.3h3v1.0h-3zM492,320.3h5v1.0h-5zM498,320.3h8v1.0h-8zM507,320.3h2v1.0h-2zM313,318.6h1v1.0h-1zM320,318.6h1v1.0h-1zM324,318.6h1v1.0h-1zM344,318.6h6v1.0h-6zM353,318.6h10v1.0h-10zM364,318.6h12v1.0h-12zM377,318.6h9v1.0h-9zM387,318.6h5v1.0h-5zM394,318.6h10v1.0h-10zM405,318.6h6v1.0h-6zM412,318.6h4v1.0h-4zM418,318.6h2v1.0h-2zM422,318.6h3v1.0h-3zM426,318.6h2v1.0h-2zM429,318.6h2v1.0h-2zM432,318.6h4v1.0h-4zM439,318.6h4v1.0h-4zM444,318.6h14v1.0h-14zM459,318.6h5v1.0h-5zM466,318.6h1v1.0h-1zM468,318.6h1v1.0h-1zM470,318.6h2v1.0h-2zM474,318.6h6v1.0h-6zM481,318.6h1v1.0h-1zM484,318.6h2v1.0h-2zM487,318.6h9v1.0h-9zM498,318.6h1v1.0h-1zM500,318.6h9v1.0h-9zM311,317h1v1.0h-1zM318,317h1v1.0h-1zM321,317h1v1.0h-1zM323,317h1v1.0h-1zM345,317h4v1.0h-4zM350,317h7v1.0h-7zM358,317h5v1.0h-5zM364,317h12v1.0h-12zM377,317h3v1.0h-3zM383,317h8v1.0h-8zM392,317h1v1.0h-1zM394,317h2v1.0h-2zM397,317h3v1.0h-3zM401,317h6v1.0h-6zM408,317h4v1.0h-4zM416,317h4v1.0h-4zM422,317h4v1.0h-4zM427,317h1v1.0h-1zM429,317h2v1.0h-2zM433,317h1v1.0h-1zM435,317h4v1.0h-4zM440,317h4v1.0h-4zM445,317h1v1.0h-1zM447,317h1v1.0h-1zM450,317h2v1.0h-2zM456,317h3v1.0h-3zM460,317h1v1.0h-1zM462,317h6v1.0h-6zM471,317h1v1.0h-1zM473,317h3v1.0h-3zM477,317h4v1.0h-4zM484,317h1v1.0h-1zM488,317h1v1.0h-1zM490,317h1v1.0h-1zM492,317h2v1.0h-2zM497,317h2v1.0h-2zM500,317h3v1.0h-3zM505,317h3v1.0h-3zM317,315.6h1v1.0h-1zM343,315.6h1v1.0h-1zM345,315.6h4v1.0h-4zM350,315.6h3v1.0h-3zM354,315.6h4v1.0h-4zM359,315.6h2v1.0h-2zM362,315.6h7v1.0h-7zM370,315.6h11v1.0h-11zM382,315.6h1v1.0h-1zM384,315.6h1v1.0h-1zM389,315.6h2v1.0h-2zM393,315.6h3v1.0h-3zM401,315.6h2v1.0h-2zM404,315.6h2v1.0h-2zM408,315.6h2v1.0h-2zM411,315.6h4v1.0h-4zM417,315.6h2v1.0h-2zM420,315.6h3v1.0h-3zM425,315.6h1v1.0h-1zM427,315.6h1v1.0h-1zM429,315.6h4v1.0h-4zM435,315.6h2v1.0h-2zM438,315.6h2v1.0h-2zM443,315.6h1v1.0h-1zM448,315.6h2v1.0h-2zM452,315.6h1v1.0h-1zM454,315.6h1v1.0h-1zM456,315.6h1v1.0h-1zM459,315.6h1v1.0h-1zM462,315.6h2v1.0h-2zM467,315.6h1v1.0h-1zM470,315.6h4v1.0h-4zM475,315.6h4v1.0h-4zM481,315.6h1v1.0h-1zM483,315.6h3v1.0h-3zM493,315.6h5v1.0h-5zM499,315.6h1v1.0h-1zM502,315.6h1v1.0h-1zM504,315.6h3v1.0h-3zM343,314.3h2v1.0h-2zM346,314.3h1v1.0h-1zM348,314.3h8v1.0h-8zM357,314.3h3v1.0h-3zM361,314.3h6v1.0h-6zM369,314.3h3v1.0h-3zM373,314.3h4v1.0h-4zM378,314.3h1v1.0h-1zM380,314.3h7v1.0h-7zM388,314.3h1v1.0h-1zM390,314.3h1v1.0h-1zM393,314.3h5v1.0h-5zM400,314.3h2v1.0h-2zM407,314.3h1v1.0h-1zM409,314.3h2v1.0h-2zM415,314.3h3v1.0h-3zM419,314.3h1v1.0h-1zM425,314.3h2v1.0h-2zM430,314.3h2v1.0h-2zM433,314.3h3v1.0h-3zM437,314.3h3v1.0h-3zM447,314.3h2v1.0h-2zM451,314.3h1v1.0h-1zM454,314.3h1v1.0h-1zM464,314.3h1v1.0h-1zM466,314.3h3v1.0h-3zM470,314.3h3v1.0h-3zM474,314.3h1v1.0h-1zM477,314.3h1v1.0h-1zM482,314.3h2v1.0h-2zM489,314.3h1v1.0h-1zM493,314.3h1v1.0h-1zM495,314.3h2v1.0h-2zM498,314.3h5v1.0h-5zM505,314.3h2v1.0h-2zM508,314.3h1v1.0h-1zM341,313.1h1v1.0h-1zM343,313.1h2v1.0h-2zM347,313.1h4v1.0h-4zM352,313.1h5v1.0h-5zM358,313.1h1v1.0h-1zM360,313.1h4v1.0h-4zM365,313.1h11v1.0h-11zM377,313.1h1v1.0h-1zM379,313.1h1v1.0h-1zM381,313.1h4v1.0h-4zM387,313.1h4v1.0h-4zM393,313.1h2v1.0h-2zM397,313.1h1v1.0h-1zM399,313.1h1v1.0h-1zM403,313.1h1v1.0h-1zM405,313.1h1v1.0h-1zM409,313.1h1v1.0h-1zM412,313.1h2v1.0h-2zM417,313.1h1v1.0h-1zM419,313.1h1v1.0h-1zM421,313.1h1v1.0h-1zM423,313.1h1v1.0h-1zM425,313.1h4v1.0h-4zM431,313.1h1v1.0h-1zM437,313.1h1v1.0h-1zM442,313.1h3v1.0h-3zM446,313.1h2v1.0h-2zM450,313.1h1v1.0h-1zM452,313.1h1v1.0h-1zM454,313.1h3v1.0h-3zM459,313.1h1v1.0h-1zM461,313.1h1v1.0h-1zM469,313.1h1v1.0h-1zM473,313.1h1v1.0h-1zM483,313.1h1v1.0h-1zM486,313.1h1v1.0h-1zM492,313.1h1v1.0h-1zM495,313.1h1v1.0h-1zM498,313.1h1v1.0h-1zM500,313.1h2v1.0h-2zM340,312h3v1.0h-3zM344,312h13v1.0h-13zM358,312h4v1.0h-4zM364,312h3v1.0h-3zM368,312h6v1.0h-6zM375,312h3v1.0h-3zM393,312h1v1.0h-1zM396,312h1v1.0h-1zM399,312h1v1.0h-1zM411,312h1v1.0h-1zM413,312h1v1.0h-1zM415,312h2v1.0h-2zM423,312h1v1.0h-1zM425,312h1v1.0h-1zM432,312h1v1.0h-1zM434,312h1v1.0h-1zM442,312h2v1.0h-2zM446,312h1v1.0h-1zM448,312h1v1.0h-1zM485,312h1v1.0h-1zM491,312h1v1.0h-1zM494,312h2v1.0h-2zM497,312h2v1.0h-2zM504,312h1v1.0h-1zM324,310.9h1v1.0h-1zM339,310.9h1v1.0h-1zM342,310.9h3v1.0h-3zM346,310.9h5v1.0h-5zM352,310.9h4v1.0h-4zM357,310.9h9v1.0h-9zM369,310.9h1v1.0h-1zM373,310.9h1v1.0h-1zM378,310.9h1v1.0h-1zM385,310.9h2v1.0h-2zM388,310.9h2v1.0h-2zM399,310.9h2v1.0h-2zM404,310.9h1v1.0h-1zM408,310.9h1v1.0h-1zM411,310.9h1v1.0h-1zM417,310.9h1v1.0h-1zM420,310.9h1v1.0h-1zM426,310.9h1v1.0h-1zM434,310.9h1v1.0h-1zM453,310.9h1v1.0h-1zM455,310.9h1v1.0h-1zM465,310.9h1v1.0h-1zM468,310.9h1v1.0h-1zM473,310.9h1v1.0h-1zM483,310.9h2v1.0h-2zM490,310.9h1v1.0h-1zM508,310.9h1v1.0h-1zM339,309.9h3v1.0h-3zM344,309.9h2v1.0h-2zM347,309.9h7v1.0h-7zM355,309.9h2v1.0h-2zM358,309.9h2v1.0h-2zM363,309.9h5v1.0h-5zM371,309.9h2v1.0h-2zM381,309.9h2v1.0h-2zM386,309.9h1v1.0h-1zM400,309.9h1v1.0h-1zM403,309.9h1v1.0h-1zM414,309.9h1v1.0h-1zM418,309.9h1v1.0h-1zM420,309.9h1v1.0h-1zM452,309.9h1v1.0h-1zM457,309.9h1v1.0h-1zM461,309.9h1v1.0h-1zM483,309.9h1v1.0h-1zM485,309.9h1v1.0h-1zM496,309.9h1v1.0h-1zM340,309h7v1.0h-7zM348,309h4v1.0h-4zM353,309h3v1.0h-3zM357,309h3v1.0h-3zM364,309h1v1.0h-1zM368,309h2v1.0h-2zM374,309h2v1.0h-2zM381,309h1v1.0h-1zM387,309h2v1.0h-2zM400,309h1v1.0h-1zM406,309h1v1.0h-1zM432,309h2v1.0h-2zM469,309h1v1.0h-1zM339,308.1h4v1.0h-4zM344,308.1h3v1.0h-3zM349,308.1h3v1.0h-3zM355,308.1h1v1.0h-1zM358,308.1h1v1.0h-1zM363,308.1h1v1.0h-1zM367,308.1h1v1.0h-1zM370,308.1h1v1.0h-1zM372,308.1h1v1.0h-1zM402,308.1h1v1.0h-1zM463,308.1h1v1.0h-1zM470,308.1h1v1.0h-1zM341,307.3h5v1.0h-5zM347,307.3h2v1.0h-2zM350,307.3h1v1.0h-1zM352,307.3h1v1.0h-1zM354,307.3h2v1.0h-2zM363,307.3h1v1.0h-1zM365,307.3h3v1.0h-3zM369,307.3h1v1.0h-1zM377,307.3h1v1.0h-1zM451,307.3h1v1.0h-1zM464,307.3h1v1.0h-1zM338,306.5h2v1.0h-2zM341,306.5h3v1.0h-3zM346,306.5h5v1.0h-5zM356,306.5h2v1.0h-2zM359,306.5h1v1.0h-1zM506,306.5h1v1.0h-1zM339,305.7h1v1.0h-1zM341,305.7h3v1.0h-3zM346,305.7h1v1.0h-1zM350,305.7h2v1.0h-2zM353,305.7h1v1.0h-1zM356,305.7h1v1.0h-1zM359,305.7h2v1.0h-2zM383,305.7h1v1.0h-1zM466,305.7h1v1.0h-1zM324,305h1v1.0h-1zM340,305h7v1.0h-7zM348,305h1v1.0h-1zM352,305h2v1.0h-2zM368,305h1v1.0h-1zM372,305h1v1.0h-1zM375,305h1v1.0h-1zM337,304.3h1v1.0h-1zM339,304.3h4v1.0h-4zM344,304.3h1v1.0h-1zM349,304.3h1v1.0h-1zM355,304.3h2v1.0h-2zM359,304.3h1v1.0h-1zM386,304.3h1v1.0h-1zM338,303.6h1v1.0h-1zM340,303.6h1v1.0h-1zM343,303.6h1v1.0h-1zM349,303.6h1v1.0h-1zM352,303.6h1v1.0h-1zM356,303.6h1v1.0h-1zM360,303.6h1v1.0h-1zM338,303h2v1.0h-2zM341,303h2v1.0h-2zM344,303h1v1.0h-1zM347,303h1v1.0h-1zM351,303h1v1.0h-1zM336,302.3h1v1.0h-1zM339,302.3h1v1.0h-1zM341,302.3h3v1.0h-3zM346,302.3h3v1.0h-3zM351,302.3h2v1.0h-2zM355,302.3h1v1.0h-1zM338,301.7h4v1.0h-4zM347,301.7h1v1.0h-1zM350,301.7h1v1.0h-1zM337,301.2h2v1.0h-2zM340,301.2h3v1.0h-3zM346,301.2h1v1.0h-1zM351,301.2h1v1.0h-1zM337,300.6h1v1.0h-1zM339,300.6h2v1.0h-2zM336,300.1h1v1.0h-1zM338,300.1h4v1.0h-4zM336,299.6h5v1.0h-5zM324,299.1h1v1.0h-1zM335,299.1h1v1.0h-1zM337,299.1h2v1.0h-2zM342,299.1h1v1.0h-1zM345,299.1h1v1.0h-1zM337,298.6h4v1.0h-4zM337,298.1h3v1.0h-3zM342,298.1h1v1.0h-1zM345,298.1h1v1.0h-1zM338,297.6h1v1.0h-1zM336,297.2h4v1.0h-4zM335,296.7h2v1.0h-2zM335,296.3h2v1.0h-2zM338,296.3h2v1.0h-2zM336,295.9h1v1.0h-1zM338,295.9h1v1.0h-1zM336,295.5h2v1.0h-2zM338,295.1h2v1.0h-2zM335,294.7h1v1.0h-1zM337,294.7h1v1.0h-1zM335,294.3h1v1.0h-1zM345,294.3h1v1.0h-1zM335,294h2v1.0h-2zM334,293.6h1v1.0h-1zM336,293.6h2v1.0h-2zM334,293.3h1v1.0h-1zM337,293.3h1v1.0h-1zM335,292.9h2v1.0h-2zM336,292.6h2v1.0h-2zM334,292.2h2v1.0h-2zM334,291.9h3v1.0h-3zM335,291.6h1v1.0h-1zM334,291.3h1v1.0h-1zM334,291h2v1.0h-2zM334,290.7h2v1.0h-2zM334,290.1h3v1.0h-3zM333,289.8h1v1.0h-1zM335,289.8h1v1.0h-1zM333,289.3h2v1.0h-2zM334,289h1v1.0h-1zM333,288.7h2v1.0h-2zM334,288.5h1v1.0h-1zM335,288.2h1v1.0h-1zM333,288h2v1.0h-2zM334,287.7h1v1.0h-1zM324,287.5h1v1.0h-1zM333,287.5h2v1.0h-2zM333,287.2h1v1.0h-1zM333,287h1v1.0h-1zM334,286.7h1v1.0h-1zM334,286.5h1v1.0h-1zM332,286.3h2v1.0h-2zM332,286.1h3v1.0h-3zM332,285.8h2v1.0h-2zM333,285.6h2v1.0h-2zM333,285.2h1v1.0h-1zM333,285h2v1.0h-2zM324,284.8h1v1.0h-1zM333,284.8h1v1.0h-1zM333,284.6h1v1.0h-1zM332,284.4h2v1.0h-2zM332,284.1h1v1.0h-1zM332,284h2v1.0h-2zM332,283.4h1v1.0h-1zM332,283h2v1.0h-2zM332,282.8h1v1.0h-1zM332,282.3h1v1.0h-1zM333,281.9h1v1.0h-1zM331,281.7h3v1.0h-3zM332,281.6h1v1.0h-1zM331,281.4h1v1.0h-1zM332,281.2h1v1.0h-1zM331,281.1h2v1.0h-2zM331,280.7h2v1.0h-2zM332,280.3h1v1.0h-1zM331,279.9h1v1.0h-1zM324,279.5h1v1.0h-1zM331,279.5h1v1.0h-1zM331,279h2v1.0h-2zM331,278.8h1v1.0h-1zM331,278.5h1v1.0h-1zM332,278.3h1v1.0h-1zM331,278.2h1v1.0h-1zM331,277.4h1v1.0h-1zM331,277.1h2v1.0h-2zM330,277h2v1.0h-2zM330,276.9h2v1.0h-2zM331,276.7h1v1.0h-1zM331,276.6h1v1.0h-1zM331,276.4h1v1.0h-1zM331,276.2h1v1.0h-1zM331,276.1h1v1.0h-1zM331,275.9h1v1.0h-1zM330,275.4h2v1.0h-2zM330,275.3h1v1.0h-1zM330,275.2h1v1.0h-1zM330,274.9h1v1.0h-1zM330,274.3h1v1.0h-1zM330,274.2h1v1.0h-1zM330,274h1v1.0h-1zM330,273.7h1v1.0h-1zM329,273.5h1v1.0h-1zM330,273.4h1v1.0h-1zM330,273.3h1v1.0h-1zM330,273h1v1.0h-1zM324,272.9h1v1.0h-1zM330,272.8h1v1.0h-1zM330,272.7h1v1.0h-1zM329,272.6h1v1.0h-1zM330,272.1h1v1.0h-1zM330,271.6h1v1.0h-1zM330,271.3h1v1.0h-1zM329,271.2h2v1.0h-2zM330,271h1v1.0h-1zM329,270.8h1v1.0h-1zM329,270.7h2v1.0h-2zM329,270.4h1v1.0h-1zM330,270.3h1v1.0h-1zM329,269.6h1v1.0h-1zM329,269.4h1v1.0h-1zM329,269h1v1.0h-1zM329,268.9h1v1.0h-1zM329,268.8h1v1.0h-1zM324,268.3h1v1.0h-1zM329,268h1v1.0h-1zM329,267.8h1v1.0h-1zM329,267.6h1v1.0h-1zM329,267.6h1v1.0h-1zM329,267.3h1v1.0h-1zM329,266.2h1v1.0h-1zM328,266.2h2v1.0h-2zM328,265.9h1v1.0h-1zM328,265.3h1v1.0h-1zM328,265.2h1v1.0h-1zM329,265h1v1.0h-1zM328,264.9h1v1.0h-1zM328,264.6h1v1.0h-1zM328,264.2h1v1.0h-1zM328,264.1h1v1.0h-1zM328,264h1v1.0h-1zM328,263.9h1v1.0h-1zM329,263.8h1v1.0h-1zM328,263.4h1v1.0h-1zM328,263.1h1v1.0h-1zM328,263.1h1v1.0h-1zM328,262.6h1v1.0h-1zM328,261.7h1v1.0h-1zM324,261.6h1v1.0h-1zM328,261.4h1v1.0h-1zM328,261h1v1.0h-1zM328,260.7h1v1.0h-1zM328,260.2h1v1.0h-1zM328,260h1v1.0h-1zM328,259.6h1v1.0h-1zM327,259.4h1v1.0h-1zM327,259.4h1v1.0h-1zM327,259.3h2v1.0h-2zM327,258.9h1v1.0h-1zM327,258.6h1v1.0h-1zM327,257.7h1v1.0h-1zM327,256.8h1v1.0h-1zM327,256.4h1v1.0h-1zM327,256.4h1v1.0h-1zM324,256.3h1v1.0h-1zM327,256.2h1v1.0h-1zM327,255.8h1v1.0h-1zM327,255.3h1v1.0h-1zM327,255.2h1v1.0h-1zM327,255.1h1v1.0h-1zM327,254.7h1v1.0h-1zM327,254h1v1.0h-1zM327,254h1v1.0h-1zM327,253.1h1v1.0h-1zM327,252.5h1v1.0h-1zM327,252.2h1v1.0h-1zM327,252.1h1v1.0h-1zM324,251.5h1v1.0h-1zM327,251.5h1v1.0h-1zM327,250.7h1v1.0h-1zM326,248.9h1v1.0h-1zM326,248.9h1v1.0h-1zM327,248.7h1v1.0h-1zM324,247.7h1v1.0h-1zM326,247.5h1v1.0h-1zM326,247.4h1v1.0h-1zM326,247.1h1v1.0h-1zM326,246.3h1v1.0h-1zM326,245.9h1v1.0h-1zM326,245.7h1v1.0h-1zM326,244.4h1v1.0h-1zM326,244.1h1v1.0h-1zM326,244h1v1.0h-1zM324,243.5h1v1.0h-1zM326,243.4h1v1.0h-1zM326,242.2h1v1.0h-1zM326,241.9h1v1.0h-1zM326,240.4h1v1.0h-1zM324,240.1h1v1.0h-1zM326,239.9h1v1.0h-1zM326,239.7h1v1.0h-1zM326,238.5h1v1.0h-1zM326,238.3h1v1.0h-1zM326,237.8h1v1.0h-1zM324,237.5h1v1.0h-1zM326,236.7h1v1.0h-1zM326,235.5h1v1.0h-1zM326,235h1v1.0h-1zM326,234.4h1v1.0h-1zM326,234.4h1v1.0h-1zM324,233.3h1v1.0h-1zM325,232.7h1v1.0h-1zM325,231.5h1v1.0h-1zM325,230.5h1v1.0h-1zM325,230.5h1v1.0h-1zM324,230.3h1v1.0h-1zM325,228.9h1v1.0h-1zM325,228.7h1v1.0h-1zM324,227.7h1v1.0h-1zM325,227.1h1v1.0h-1zM325,226.6h1v1.0h-1zM325,225.4h1v1.0h-1zM325,225.1h1v1.0h-1zM324,224.9h1v1.0h-1zM325,223.4h1v1.0h-1zM324,222.8h1v1.0h-1zM325,222.7h1v1.0h-1zM325,221.5h1v1.0h-1zM325,221.2h1v1.0h-1zM325,221.2h1v1.0h-1zM325,219.8h1v1.0h-1zM325,219.6h1v1.0h-1zM325,218.7h1v1.0h-1zM325,217.9h1v1.0h-1zM325,217.8h1v1.0h-1zM325,217.2h1v1.0h-1zM325,217.2h1v1.0h-1zM325,216.4h1v1.0h-1zM325,216h1v1.0h-1zM325,215.8h1v1.0h-1z" fill="#111"/>
<path d="M325.2,216.5 325.3,217.7 325.3,218.9 325.4,220.1 325.4,221.3 325.5,222.5 325.5,223.7 325.6,224.9 325.6,226 325.7,227.1 325.7,228.2 325.8,229.3 325.8,230.4 325.9,231.5 325.9,232.6 326,233.6 326,234.6 326.1,235.6 326.1,236.6 326.2,237.6 326.2,238.5 326.3,239.4 326.3,240.3 326.4,241.2 326.4,242.1 326.5,242.9 326.5,243.8 326.6,244.6 326.6,245.4 326.7,246.1 326.8,246.9 326.8,247.6 326.9,248.3 326.9,249 327,249.7 327,250.3 327.1,251 327.1,251.6 327.2,252.2 327.2,252.8 327.3,253.4 327.3,253.9 327.4,254.4 327.4,255 327.5,255.5 327.5,256 327.6,256.5 327.6,256.9 327.7,257.4 327.7,257.8 327.8,258.3 327.8,258.7 327.9,259.1 327.9,259.5 328,259.9 328,260.3 328.1,260.6 328.1,261 328.2,261.4 328.2,261.7 328.3,262.1 328.3,262.4 328.4,262.8 328.4,263.1 328.5,263.4 328.5,263.7 328.6,264 328.6,264.3 328.7,264.7 328.7,265 328.8,265.2 328.8,265.5 328.9,265.8 328.9,266.1 329,266.4 329,266.7 329.1,267 329.1,267.2 329.2,267.5 329.2,267.8 329.3,268 329.3,268.3 329.4,268.6 329.4,268.8 329.5,269.1 329.5,269.3 329.6,269.6 329.6,269.9 329.7,270.1 329.7,270.4 329.8,270.6 329.8,270.9 329.9,271.1 329.9,271.3 330,271.6 330,271.8 330.1,272.1 330.1,272.3 330.2,272.6 330.2,272.8 330.3,273 330.3,273.3 330.4,273.5 330.4,273.7 330.5,274 330.5,274.2 330.6,274.4 330.6,274.7 330.7,274.9 330.7,275.1 330.8,275.4 330.8,275.6 330.9,275.8 330.9,276.1 331,276.3 331,276.5 331.1,276.7 331.1,277 331.2,277.2 331.2,277.4 331.3,277.6 331.3,277.8 331.4,278.1 331.4,278.3 331.5,278.5 331.5,278.7 331.6,278.9 331.6,279.2 331.7,279.4 331.7,279.6 331.8,279.8 331.8,280 331.9,280.2 331.9,280.4 332,280.7 332,280.9 332.1,281.1 332.1,281.3 332.2,281.5 332.2,281.7 332.3,281.9 332.3,282.1 332.4,282.3 332.4,282.5 332.5,282.7 332.5,282.9 332.6,283.1 332.6,283.3 332.7,283.5 332.7,283.7 332.8,283.9 332.8,284.1 332.9,284.3 332.9,284.5 333,284.7 333,284.9 333.1,285.1 333.1,285.3 333.2,285.5 333.2,285.7 333.3,285.9 333.3,286.1 333.4,286.3 333.4,286.5 333.5,286.7 333.5,286.8 333.6,287 333.6,287.2 333.7,287.4 333.7,287.6 333.8,287.8 333.8,288 333.9,288.1 334,288.3 334,288.5 334.1,288.7 334.1,288.9 334.2,289 334.2,289.2 334.3,289.4 334.3,289.6 334.4,289.7 334.4,289.9 334.5,290.1 334.5,290.3 334.6,290.4 334.6,290.6 334.7,290.8 334.7,290.9 334.8,291.1 334.8,291.3 334.9,291.4 334.9,291.6 335,291.8 335,291.9 335.1,292.1 335.1,292.2 335.2,292.4 335.2,292.6 335.3,292.7 335.3,292.9 335.4,293 335.4,293.2 335.5,293.3 335.5,293.5 335.6,293.7 335.6,293.8 335.7,294 335.7,294.1 335.8,294.3 335.8,294.4 335.9,294.6 335.9,294.7 336,294.8 336,295 336.1,295.1 336.1,295.3 336.2,295.4 336.2,295.6 336.3,295.7 336.3,295.8 336.4,296 336.4,296.1 336.5,296.3 336.5,296.4 336.6,296.5 336.6,296.7 336.7,296.8 336.7,296.9 336.8,297.1 336.8,297.2 336.9,297.3 336.9,297.5 337,297.6 337,297.7 337.1,297.8 337.1,298 337.2,298.1 337.2,298.2 337.3,298.3 337.3,298.5 337.4,298.6 337.4,298.7 337.5,298.8 337.5,298.9 337.6,299.1 337.6,299.2 337.7,299.3 337.7,299.4 337.8,299.5 337.8,299.6 337.9,299.8 337.9,299.9 338,300 338,300.1 338.1,300.2 338.1,300.3 338.2,300.4 338.2,300.5 338.3,300.6 338.3,300.7 338.4,300.9 338.4,301 338.5,301.1 338.5,301.2 338.6,301.3 338.6,301.4 338.7,301.5 338.7,301.6 338.8,301.7 338.8,301.8 338.9,301.9 338.9,302 339,302.1 339,302.2 339.1,302.3 339.1,302.4 339.2,302.4 339.2,302.5 339.3,302.6 339.3,302.7 339.4,302.8 339.4,302.9 339.5,303 339.5,303.1 339.6,303.2 339.6,303.3 339.7,303.4 339.7,303.4 339.8,303.5 339.8,303.6 339.9,303.7 339.9,303.8 340,303.9 340,303.9 340.1,304 340.1,304.1 340.2,304.2 340.2,304.3 340.3,304.4 340.3,304.4 340.8,305.2 341.4,305.9 341.9,306.6 342.4,307.2 342.9,307.8 343.4,308.3 343.9,308.9 344.4,309.3 344.9,309.8 345.4,310.2 345.9,310.7 346.4,311.1 346.9,311.5 347.4,311.8 347.9,312.2 348.4,312.5 348.9,312.9 349.4,313.2 349.9,313.5 350.4,313.8 350.9,314.1 351.4,314.4 351.9,314.7 352.4,315 352.9,315.3 353.4,315.5 353.9,315.8 354.4,316.1 354.9,316.3 355.4,316.6 356,316.9 356.5,317.1 357,317.3 357.5,317.6 358,317.8 358.5,318.1 359,318.3 359.5,318.5 360,318.7 360.5,319 361,319.2 361.5,319.4 362,319.6 362.5,319.8 363,320 363.5,320.2 364,320.4 364.5,320.6 365,320.8 365.5,321 366,321.2 366.5,321.3 367,321.5 367.5,321.7 368,321.9 368.5,322 369,322.2 369.5,322.4 370.1,322.5 370.6,322.7 371.1,322.8 371.6,323 372.1,323.1 372.6,323.3 373.1,323.4 373.6,323.6 374.1,323.7 374.6,323.8 375.1,324 375.6,324.1 376.1,324.2 376.6,324.4 377.1,324.5 377.6,324.6 378.1,324.7 378.6,324.8 379.1,325 379.6,325.1 380.1,325.2 380.6,325.3 381.1,325.4 381.6,325.5 382.1,325.6 382.6,325.7 383.1,325.8 383.6,325.9 384.1,326 384.7,326.1 385.2,326.2 385.7,326.2 386.2,326.3 386.7,326.4 387.2,326.5 387.7,326.6 388.2,326.6 388.7,326.7 389.2,326.8 389.7,326.9 390.2,326.9 390.7,327 391.2,327.1 391.7,327.1 392.2,327.2 392.7,327.3 393.2,327.3 393.7,327.4 394.2,327.4 394.7,327.5 395.2,327.6 395.7,327.6 396.2,327.7 396.7,327.7 397.2,327.8 397.7,327.8 398.2,327.9 398.8,327.9 399.3,328 399.8,328 400.3,328 400.8,328.1 401.3,328.1 401.8,328.2 402.3,328.2 402.8,328.2 403.3,328.3 403.8,328.3 404.3,328.4 404.8,328.4 405.3,328.4 405.8,328.5 406.3,328.5 406.8,328.5 407.3,328.5 407.8,328.6 408.3,328.6 408.8,328.6 409.3,328.7 409.8,328.7 410.3,328.7 410.8,328.7 411.3,328.8 411.8,328.8 412.3,328.8 412.8,328.8 413.4,328.9 413.9,328.9 414.4,328.9 414.9,328.9 415.4,328.9 415.9,329 416.4,329 416.9,329 417.4,329 417.9,329 418.4,329.1 418.9,329.1 419.4,329.1 419.9,329.1 420.4,329.1 420.9,329.1 421.4,329.1 421.9,329.2 422.4,329.2 422.9,329.2 423.4,329.2 423.9,329.2 424.4,329.2 424.9,329.2 425.4,329.3 425.9,329.3 426.4,329.3 426.9,329.3 427.5,329.3 428,329.3 428.5,329.3 429,329.3 429.5,329.3 430,329.3 430.5,329.4 431,329.4 431.5,329.4 432,329.4 432.5,329.4 433,329.4 433.5,329.4 434,329.4 434.5,329.4 435,329.4 435.5,329.4 436,329.4 436.5,329.4 437,329.5 437.5,329.5 438,329.5 438.5,329.5 439,329.5 439.5,329.5 440,329.5 440.5,329.5 441,329.5 441.5,329.5 442.1,329.5 442.6,329.5 443.1,329.5 443.6,329.5 444.1,329.5 444.6,329.5 445.1,329.5 445.6,329.5 446.1,329.5 446.6,329.5 447.1,329.5 447.6,329.6 448.1,329.6 448.6,329.6 449.1,329.6 449.6,329.6 450.1,329.6 450.6,329.6 451.1,329.6 451.6,329.6 452.1,329.6 452.6,329.6 453.1,329.6 453.6,329.6 454.1,329.6 454.6,329.6 455.1,329.6 455.6,329.6 456.1,329.6 456.7,329.6 457.2,329.6 457.7,329.6 458.2,329.6 458.7,329.6 459.2,329.6 459.7,329.6 460.2,329.6 460.7,329.6 461.2,329.6 461.7,329.6 462.2,329.6 462.7,329.6 463.2,329.6 463.7,329.6 464.2,329.6 464.7,329.6 465.2,329.6 465.7,329.6 466.2,329.6 466.7,329.6 467.2,329.6 467.7,329.6 468.2,329.6 468.7,329.6 469.2,329.6 469.7,329.6 470.2,329.6 470.8,329.6 471.3,329.6 471.8,329.6 472.3,329.6 472.8,329.6 473.3,329.6 473.8,329.7 474.3,329.7 474.8,329.7 475.3,329.7 475.8,329.7 476.3,329.7 476.8,329.7 477.3,329.7 477.8,329.7 478.3,329.7 478.8,329.7 479.3,329.7 479.8,329.7 480.3,329.7 480.8,329.7 481.3,329.7 481.8,329.7 482.3,329.7 482.8,329.7 483.3,329.7 483.8,329.7 484.3,329.7 484.8,329.7 485.4,329.7 485.9,329.7 486.4,329.7 486.9,329.7 487.4,329.7 487.9,329.7 488.4,329.7 488.9,329.7 489.4,329.7 489.9,329.7 490.4,329.7 490.9,329.7 491.4,329.7 491.9,329.7 492.4,329.7 492.9,329.7 493.4,329.7 493.9,329.7 494.4,329.7 494.9,329.7 495.4,329.7 495.9,329.7 496.4,329.7 496.9,329.7 497.4,329.7 497.9,329.7 498.4,329.7 498.9,329.7 499.5,329.7 500,329.7 500.5,329.7 501,329.7 501.5,329.7 502,329.7 502.5,329.7 503,329.7 503.5,329.7 504,329.7 504.5,329.7 505,329.7 505.5,329.7 506,329.7 506.5,329.7 507,329.7 507.5,329.7 508,329.7 508.5,329.7" fill="none" stroke="#c8202f" stroke-width="1.7" stroke-linejoin="round"/>
<text x="437.8" y="224.4" font-size="11.1">τ<tspan dy="2.6" font-size="7.5">1</tspan><tspan dy="-2.6"> = 0.6 ns</tspan></text>
<text x="437.8" y="237.3" font-size="11.1">τ<tspan dy="2.6" font-size="7.5">2</tspan><tspan dy="-2.6"> = 3.2 ns</tspan></text>
<text x="437.8" y="250.2" font-size="11.1">τ<tspan dy="2.6" font-size="7.5">3</tspan><tspan dy="-2.6"> = 14.9 ns</tspan></text>
<text x="437.8" y="263.1" font-size="11.1">τ<tspan dy="2.6" font-size="6.4">avg</tspan><tspan dy="-2.6"> = 3.7 ns</tspan></text>
</svg></body></html>
